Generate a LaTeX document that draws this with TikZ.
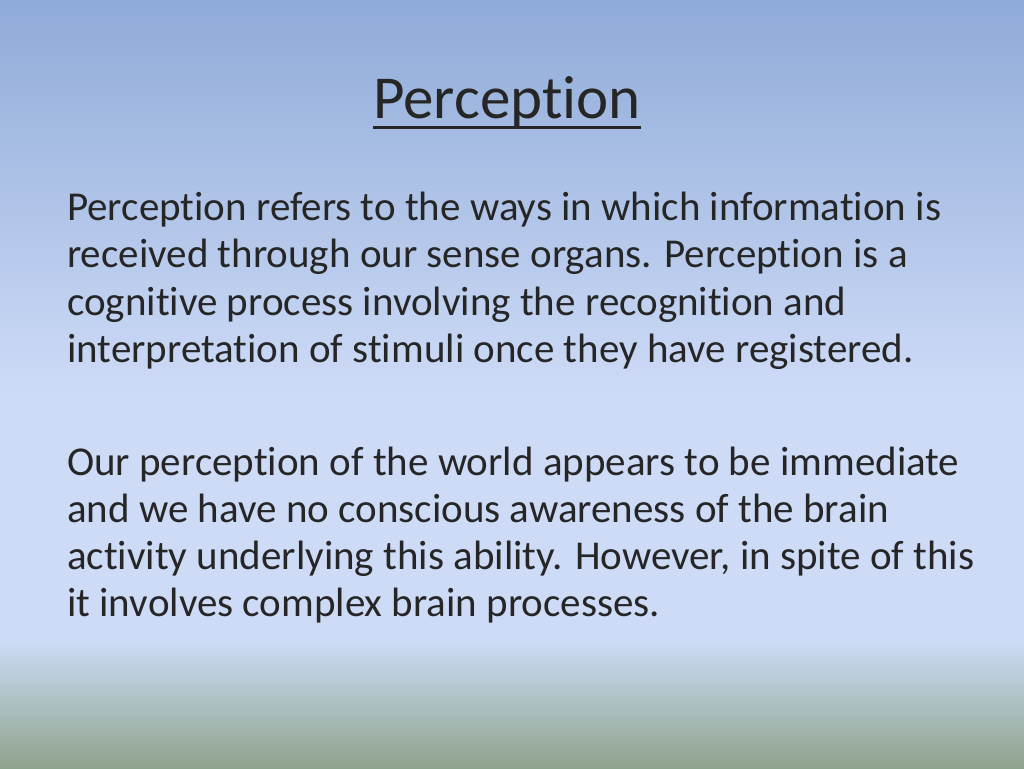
\documentclass[tikz,border=0pt]{standalone}
\usepackage{fontspec}
\setmainfont{Carlito}[RawFeature=-liga]
\begin{document}
\begin{tikzpicture}[x=1pt,y=-1pt,
  body/.style={anchor=base west,inner sep=0pt,font=\fontsize{41}{48}\selectfont,text=black!85}]
\definecolor{topc}{RGB}{143,171,216}
\definecolor{midc}{RGB}{206,219,247}
\definecolor{botc}{RGB}{142,163,140}
\useasboundingbox (0,0) rectangle (1024,768);
\shade[top color=topc,bottom color=midc] (0,0) rectangle (1024,395);
\fill[midc] (0,394) rectangle (1024,641);
\shade[top color=midc,bottom color=botc] (0,640) rectangle (1024,768);
\node[anchor=base,inner sep=0pt,font=\fontsize{61}{66}\selectfont,text=black!85] (title) at (507,118) {Perception};
\draw[black!85,line width=3pt] ([yshift=-9pt]title.base west) -- ([yshift=-9pt]title.base east);
\node[body] (l1) at (67,220) {Perception refers to the ways in which information is};
\node[body] (l2) at (67,267) {received through our sense organs. Perception is a};
\node[body] (l3) at (67,315) {cognitive process involving the recognition and};
\node[body] (l4) at (67,362) {interpretation of stimuli once they have registered.};
\node[body] (m1) at (67,475) {Our perception of the world appears to be immediate};
\node[body] (m2) at (67,522) {and we have no conscious awareness of the brain};
\node[body] (m3) at (67,569) {activity underlying this ability. However, in spite of this};
\node[body] (m4) at (67,616) {it involves complex brain processes.};
\end{tikzpicture}
\end{document}
